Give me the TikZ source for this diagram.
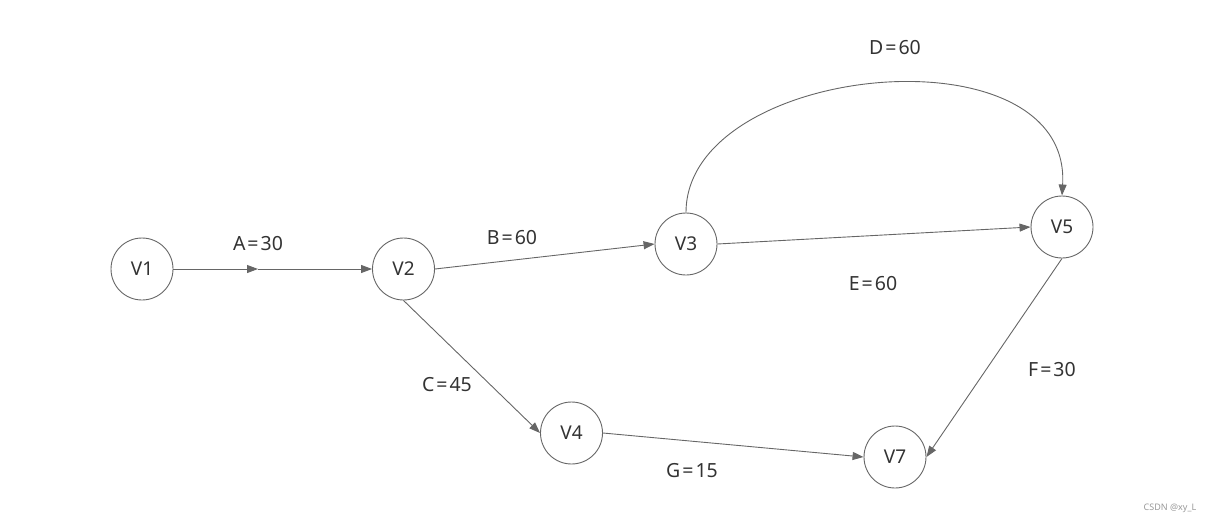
\documentclass[tikz,border=0pt]{standalone}
\usepackage{fontspec}
\setmainfont{Noto Sans}
\usetikzlibrary{arrows.meta}
\definecolor{edgegray}{HTML}{666666}
\definecolor{txt}{HTML}{333333}
\newcommand{\eqsp}{\hspace{2pt}=\hspace{2pt}}
\begin{document}
\begin{tikzpicture}[x=1pt,y=-1pt,
  vert/.style={circle,draw=edgegray,line width=0.9pt,minimum size=62pt,inner sep=0pt,text=txt,font=\fontsize{19}{22}\selectfont},
  lbl/.style={text=txt,font=\fontsize{19.5}{22}\selectfont,inner sep=0pt},
  arr/.style={draw=edgegray,line width=0.9pt,-{Triangle[length=11pt,width=8pt]}}]
\useasboundingbox (0,0) rectangle (1215,522);
\node[vert] (V1) at (142,269) {V1};
\node[vert] (V2) at (403.5,269) {V2};
\node[vert] (V3) at (686,244) {V3};
\node[vert] (V5) at (1062,227) {V5};
\node[vert] (V4) at (571.5,433) {V4};
\node[vert] (V7) at (895,457) {V7};
\coordinate (m) at (258,269);
\draw[arr] (V1.east) -- (m);
\draw[arr] (m) -- (V2.west);
\draw[arr] (V2.east) -- (V3.west);
\draw[arr] (V2.south) -- (V4.west);
\draw[arr] (V3.east) -- (V5.west);
\draw[arr] (V3.north) .. controls +(0,-150) and +(10,-170) .. (V5.north);
\draw[arr] (V5.south) -- (V7.east);
\draw[arr] (V4.east) -- (V7.west);
\node[lbl] (lA) at (258,244) {A\eqsp30};
\node[lbl] (lB) at (512,238) {B\eqsp60};
\node[lbl] (lC) at (447,385) {C\eqsp45};
\node[lbl] (lD) at (895,48) {D\eqsp60};
\node[lbl] (lE) at (873,284) {E\eqsp60};
\node[lbl] (lF) at (1052,370) {F\eqsp30};
\node[lbl] (lG) at (692,471) {G\eqsp15};
\node[text=gray!80,font=\fontsize{9}{10}\selectfont,inner sep=0pt] (wm) at (1170,508) {CSDN @xy\_L};
\end{tikzpicture}
\end{document}
